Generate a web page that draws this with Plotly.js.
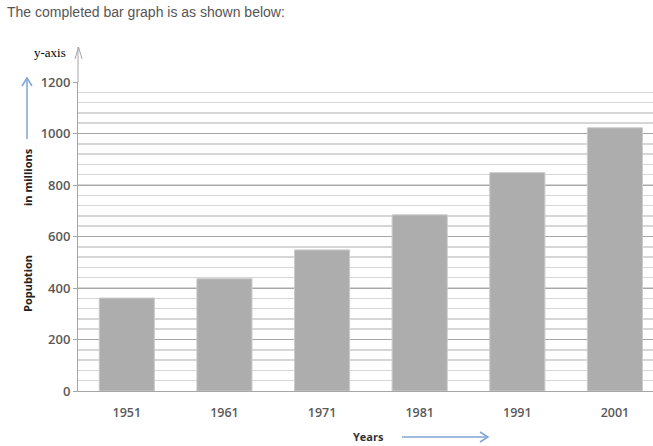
<!DOCTYPE html>
<html>
<head>
<meta charset="utf-8">
<script src="https://cdn.plot.ly/plotly-3.0.1.min.js"></script>
<style>
html,body{margin:0;padding:0;background:#fff;}
#chart{width:653px;height:446px;}
</style>
</head>
<body>
<div id="chart"></div>
<script>
const years = ['1951', '1961', '1971', '1981', '1991', '2001'];
const population = [361, 436, 548, 684, 848, 1022];
const yTicks = [0, 200, 400, 600, 800, 1000, 1200];

const W = 653, H = 446;
const L = 78, T = 82, B = 55, R = 0;
const pw = W - L - R, ph = H - T - B;
// pixel -> paper helpers (for decorations only)
const px = x => (x - L) / pw;
const py = y => (H - B - y) / ph;

const trace = {
  type: 'bar',
  x: years,
  y: population,
  marker: {color: '#adadad', line: {color: '#cbcbcb', width: 1}},
  hoverinfo: 'x+y'
};

const blue = '#7fa6d3';
const layout = {
  width: W, height: H,
  margin: {l: L, r: R, t: T, b: B, pad: 0},
  paper_bgcolor: '#fff', plot_bgcolor: '#fff',
  showlegend: false,
  bargap: 0.435,
  font: {family: 'Open Sans, Liberation Sans, sans-serif', color: '#595959'},
  xaxis: {
    type: 'category',
    range: [-0.5, 5.39],
    showgrid: false,
    showline: true, linecolor: '#a6a6a6', linewidth: 1,
    ticks: '',
    ticklabelstandoff: 10,
    tickfont: {size: 12.5, color: '#595959', weight: 600},
    fixedrange: true
  },
  yaxis: {
    range: [0, 1200],
    tickvals: yTicks,
    ticktext: yTicks.map(String),
    showgrid: true, gridcolor: '#a6a6a6', gridwidth: 1,
    minor: {dtick: 40, showgrid: true, gridcolor: '#d6d6d6', gridwidth: 1.5, ticks: ''},
    showline: true, linecolor: '#a6a6a6', linewidth: 1,
    ticks: 'outside', ticklen: 4, tickcolor: '#a6a6a6',
    ticklabelstandoff: 0,
    tickfont: {size: 13, color: '#595959', weight: 600},
    zeroline: false,
    fixedrange: true
  },
  shapes: [
    // extended y axis line with open arrow head
    {type: 'line', xref: 'paper', yref: 'paper', x0: 0, x1: 0, y0: 1, y1: py(47),
     line: {color: '#a6a6a6', width: 1}},
    {type: 'path', xref: 'paper', yref: 'paper',
     path: `M ${px(75)} ${py(59)} L ${px(78.5)} ${py(47)} L ${px(82)} ${py(59)}`,
     line: {color: '#a6a6a6', width: 1}},
    // blue arrow on left (vertical)
    {type: 'line', xref: 'paper', yref: 'paper', x0: px(27), x1: px(27), y0: py(139), y1: py(78),
     line: {color: blue, width: 1.5}},
    {type: 'path', xref: 'paper', yref: 'paper',
     path: `M ${px(22)} ${py(86)} L ${px(27)} ${py(78)} L ${px(32)} ${py(86)}`,
     line: {color: blue, width: 1.5}},
    // blue arrow at bottom (horizontal)
    {type: 'line', xref: 'paper', yref: 'paper', x0: px(402), x1: px(488), y0: py(437), y1: py(437),
     line: {color: blue, width: 1.5}},
    {type: 'path', xref: 'paper', yref: 'paper',
     path: `M ${px(480)} ${py(432)} L ${px(488)} ${py(437)} L ${px(480)} ${py(442)}`,
     line: {color: blue, width: 1.5}}
  ],
  annotations: [
    {text: 'The completed bar graph is as shown below:', xref: 'paper', yref: 'paper',
     x: px(5), y: py(12), xanchor: 'left', yanchor: 'middle', showarrow: false,
     font: {family: 'Liberation Sans, Arial, sans-serif', size: 14, color: '#555'}},
    {text: 'y-axis', xref: 'paper', yref: 'paper',
     x: px(68), y: py(53), xanchor: 'right', yanchor: 'middle', showarrow: false,
     font: {family: 'Liberation Serif, Times New Roman, serif', size: 13, color: '#000'}},
    {text: '<b>Popubtion</b>', xref: 'paper', yref: 'paper', textangle: -90,
     x: px(27), y: py(284), xanchor: 'center', yanchor: 'middle', showarrow: false,
     font: {family: 'Open Sans, Liberation Sans, sans-serif', size: 11, color: '#222'}},
    {text: '<b>in millions</b>', xref: 'paper', yref: 'paper', textangle: -90,
     x: px(27), y: py(177), xanchor: 'center', yanchor: 'middle', showarrow: false,
     font: {family: 'Open Sans, Liberation Sans, sans-serif', size: 11, color: '#222'}},
    {text: '<b>Years</b>', xref: 'paper', yref: 'paper',
     x: px(368), y: py(436), xanchor: 'center', yanchor: 'middle', showarrow: false,
     font: {family: 'Open Sans, Liberation Sans, sans-serif', size: 11, color: '#333'}}
  ]
};

Plotly.newPlot('chart', [trace], layout, {displayModeBar: false, staticPlot: true});
</script>
</body>
</html>
